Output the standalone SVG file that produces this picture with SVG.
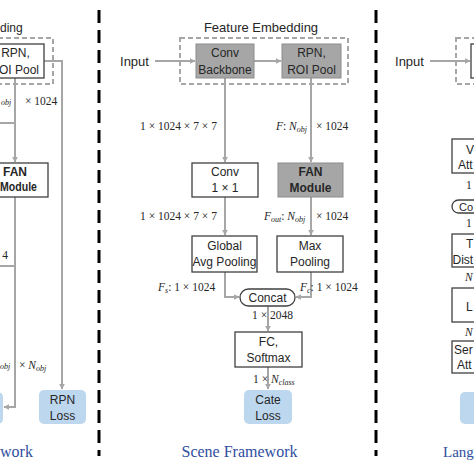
<svg xmlns="http://www.w3.org/2000/svg" width="474" height="474" viewBox="0 0 474 474">
<defs>
<style>
.t{font-family:"Liberation Sans",Arial,sans-serif;font-size:12px;fill:#262626;text-anchor:middle}
.tb{font-weight:bold}
.m{font-family:"Liberation Serif","Times New Roman",serif;font-size:11.5px;fill:#262626}
.i{font-style:italic}
.sub{font-size:8px;font-style:italic}
.ttl{font-family:"Liberation Serif","Times New Roman",serif;font-size:16px;fill:#2f4ea0;text-anchor:middle}
.box{fill:#ffffff;stroke:#404040;stroke-width:1.3}
.gbox{fill:#a6a6a6;stroke:#8c8c8c;stroke-width:1}
.loss{fill:#bdd7ee;stroke:none}
.dash{fill:none;stroke:#a6a6a6;stroke-width:2;stroke-dasharray:5 3}
.sep{fill:none;stroke:#000000;stroke-width:3;stroke-dasharray:13 7}
.ln{fill:none;stroke:#a6a6a6;stroke-width:2}
.arr{fill:none;stroke:#a6a6a6;stroke-width:2;marker-end:url(#ah)}
</style>
<marker id="ah" viewBox="0 0 10 10" refX="9" refY="5" markerWidth="3" markerHeight="3" orient="auto" markerUnits="strokeWidth">
<path d="M0,0 L10,5 L0,10 Z" fill="#a6a6a6"/>
</marker>
</defs>
<rect width="474" height="474" fill="#ffffff"/>

<!-- separators -->
<g id="separators">
<line class="sep" x1="99" y1="10" x2="99" y2="456"/>
<line class="sep" x1="376" y1="10" x2="376" y2="456"/>
</g>

<!-- dashed embedding boxes -->
<g id="embed-left"><rect class="dash" x="-10" y="38" width="63" height="46"/></g>
<g id="embed-mid"><rect class="dash" x="180" y="38" width="168" height="46"/></g>
<g id="embed-right"><rect class="dash" x="456" y="38" width="40" height="46"/></g>

<!-- connectors -->
<g id="connectors">
<!-- left panel -->
<line class="arr" x1="15" y1="78" x2="15" y2="162"/>
<line class="ln" x1="0" y1="123" x2="15" y2="123"/>
<polyline class="arr" points="15,197 15,407 4,407"/>
<line class="ln" x1="0" y1="266" x2="15" y2="266"/>
<polyline class="arr" points="44,61 62,61 62,389"/>
<!-- middle panel -->
<line class="arr" x1="155" y1="61" x2="195" y2="61"/>
<line class="arr" x1="254" y1="61" x2="281" y2="61"/>
<line class="arr" x1="225" y1="78" x2="225" y2="162"/>
<line class="arr" x1="311" y1="78" x2="311" y2="162"/>
<line class="arr" x1="225" y1="197" x2="225" y2="235"/>
<line class="arr" x1="311" y1="197" x2="311" y2="235"/>
<polyline class="arr" points="225,272 225,297 239,297"/>
<polyline class="arr" points="311,272 311,297 296,297"/>
<line class="arr" x1="268" y1="306" x2="268" y2="331"/>
<line class="arr" x1="268" y1="367" x2="268" y2="389"/>
<!-- right panel -->
<line class="arr" x1="430" y1="61" x2="470" y2="61"/>
</g>

<!-- left panel nodes -->
<text class="t" style="text-anchor:start" x="0" y="32">ding</text>
<g id="left-rpn">
<rect class="box" x="-20" y="44" width="64" height="34"/>
<text class="t" x="15.5" y="57">RPN,</text>
<text class="t" style="text-anchor:end" x="39" y="74">OI Pool</text>
</g>
<text class="m" x="1" y="105"><tspan class="sub">obj</tspan><tspan x="22"> × 1024</tspan></text>
<g id="left-fan">
<rect class="box" x="-20" y="163" width="68" height="34"/>
<text class="t tb" x="15" y="176">FAN</text>
<text class="t tb" style="text-anchor:start" x="0" y="191" textLength="37" lengthAdjust="spacingAndGlyphs">Module</text>
</g>
<text class="m" style="text-anchor:end" x="8" y="259">4</text>
<text class="m" x="0" y="369"><tspan class="sub">obj</tspan><tspan x="16"> × </tspan><tspan class="i">N</tspan><tspan class="sub" dy="2">obj</tspan></text>
<g id="left-loss"><rect class="loss" x="-20" y="392" width="23" height="32" rx="5"/></g>
<g id="left-rpn-loss">
<rect class="loss" x="39" y="390" width="47" height="34" rx="5"/>
<text class="t" x="62.5" y="404">RPN</text>
<text class="t" x="62.5" y="420">Loss</text>
</g>
<text class="ttl" style="text-anchor:start" x="0" y="457">work</text>

<!-- middle panel -->
<text class="t" style="font-size:13px" x="261" y="32">Feature Embedding</text>
<text class="t" style="font-size:13px" x="134.5" y="66">Input</text>
<g id="conv-backbone">
<rect class="gbox" x="196" y="44" width="58" height="34"/>
<text class="t" x="225" y="57">Conv</text>
<text class="t" x="225" y="74">Backbone</text>
</g>
<g id="rpn-roi">
<rect class="gbox" x="282" y="44" width="59" height="34"/>
<text class="t" x="311.5" y="57">RPN,</text>
<text class="t" x="311.5" y="74">ROI Pool</text>
</g>
<text class="m" x="140" y="130">1 × 1024 × 7 × 7</text>
<text class="m" x="276" y="130"><tspan class="i">F</tspan>: <tspan class="i">N</tspan><tspan class="sub" dy="2">obj</tspan><tspan dy="-2" x="313"> × 1024</tspan></text>
<g id="conv1x1">
<rect class="box" x="192" y="163" width="66" height="34"/>
<text class="t" x="225" y="176">Conv</text>
<text class="t" x="225" y="192">1 × 1</text>
</g>
<g id="fan-module">
<rect class="gbox" x="278" y="163" width="65" height="34"/>
<text class="t tb" x="310.5" y="176">FAN</text>
<text class="t tb" x="310.5" y="192">Module</text>
</g>
<text class="m" x="140" y="220">1 × 1024 × 7 × 7</text>
<text class="m" x="264" y="220"><tspan class="i">F</tspan><tspan class="sub" dy="2">out</tspan><tspan dy="-2">: </tspan><tspan class="i">N</tspan><tspan class="sub" dy="2">obj</tspan><tspan dy="-2" x="313"> × 1024</tspan></text>
<g id="global-avg-pooling">
<rect class="box" x="192" y="236" width="65" height="36"/>
<text class="t" x="224.5" y="250">Global</text>
<text class="t" x="224.5" y="266">Avg Pooling</text>
</g>
<g id="max-pooling">
<rect class="box" x="277" y="236" width="66" height="36"/>
<text class="t" x="310" y="250">Max</text>
<text class="t" x="310" y="266">Pooling</text>
</g>
<text class="m" x="158" y="291"><tspan class="i">F</tspan><tspan class="sub" dy="2">s</tspan><tspan dy="-2">: 1 × 1024</tspan></text>
<text class="m" x="300" y="291"><tspan class="i">F</tspan><tspan class="sub" dy="2">c</tspan><tspan dy="-2">: 1 × 1024</tspan></text>
<g id="concat">
<rect class="box" x="240" y="289" width="55" height="17" rx="8.5"/>
<text class="t" x="267.5" y="302">Concat</text>
</g>
<text class="m" x="252" y="319">1 ×<tspan x="270">2048</tspan></text>
<g id="fc-softmax">
<rect class="box" x="235" y="332" width="67" height="35"/>
<text class="t" x="268.5" y="346">FC,</text>
<text class="t" x="268.5" y="362">Softmax</text>
</g>
<text class="m" x="253" y="383">1 × <tspan class="i">N</tspan><tspan class="sub" dy="2">class</tspan></text>
<g id="cate-loss">
<rect class="loss" x="244" y="390" width="48" height="34" rx="5"/>
<text class="t" x="268" y="404">Cate</text>
<text class="t" x="268" y="420">Loss</text>
</g>
<text class="ttl" x="239.5" y="457">Scene Framework</text>

<!-- right panel -->
<text class="t" style="font-size:13px" x="409.5" y="66">Input</text>
<g id="right-embed-box"><rect class="box" x="471" y="44" width="20" height="34"/></g>
<g id="right-visual-att">
<rect class="box" x="452" y="139" width="40" height="34"/>
<text class="t" style="text-anchor:start" x="466" y="154">V</text>
<text class="t" style="text-anchor:start" x="458" y="169">Att</text>
</g>
<text class="m" x="466" y="189">1</text>
<g id="right-concat">
<rect class="box" x="452" y="200" width="40" height="13" rx="6.5"/>
<text class="t" style="text-anchor:start;font-size:11px" x="459" y="210.5">Co</text>
</g>
<text class="m" x="466" y="227">1</text>
<g id="right-dist">
<rect class="box" x="452" y="234" width="40" height="33"/>
<text class="t" style="text-anchor:start" x="466" y="248">T</text>
<text class="t" style="text-anchor:start" x="452.5" y="264">Dist</text>
</g>
<text class="m i" x="465" y="281">N</text>
<g id="right-l">
<rect class="box" x="452" y="288" width="40" height="34"/>
<text class="t" style="text-anchor:start" x="466" y="311">L</text>
</g>
<text class="m i" x="465" y="336">N</text>
<g id="right-sem-att">
<rect class="box" x="452" y="341" width="40" height="32"/>
<text class="t" style="text-anchor:start" x="454" y="354">Ser</text>
<text class="t" style="text-anchor:start" x="457" y="369">Att</text>
</g>
<g id="right-loss"><rect class="loss" x="460" y="392" width="30" height="32" rx="5"/></g>
<text class="ttl" style="text-anchor:start;font-size:15px" x="443" y="457">Lang</text>
</svg>
